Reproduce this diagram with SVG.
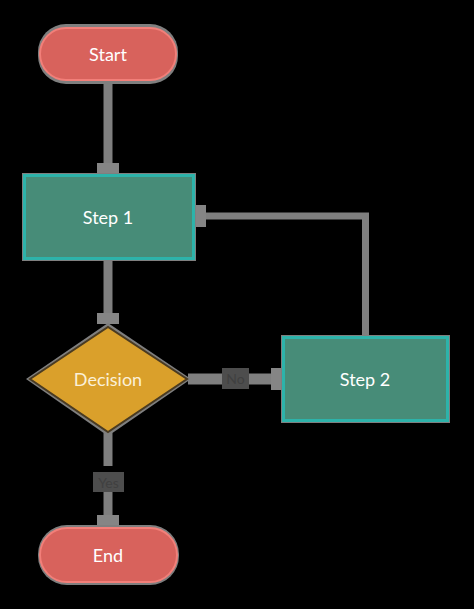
<svg xmlns="http://www.w3.org/2000/svg" width="474" height="609" viewBox="0 0 474 609">
<defs>
<style>
.halo{fill:#7f7f7f}
.term{fill:#d8625c;stroke:#f27f79;stroke-width:2}
.step{fill:#478c78;stroke:#2db3aa;stroke-width:3}
.dec{fill:#daa02b;stroke:#4a3b22;stroke-width:2}
.lbl{font-family:Lato,"Open Sans","Noto Sans",sans-serif;font-size:18px;fill:#ffffff;text-anchor:middle;dominant-baseline:central}
.dlbl{fill:#fbf0d8}
.edge{fill:none;stroke:#7f7f7f;stroke-width:9}
.ebox{fill:#4d4d4d}
.etxt{font-family:Lato,"Open Sans","Noto Sans",sans-serif;font-size:14px;fill:#404040;text-anchor:middle;dominant-baseline:central}
</style>
<marker id="blk" viewBox="0 0 11 22" refX="11" refY="11" markerWidth="11" markerHeight="22" markerUnits="userSpaceOnUse" orient="auto">
<rect x="0" y="0" width="11" height="22" fill="#858585"/>
</marker>
</defs>
<rect width="474" height="609" fill="#000000"/>
<g id="connectors">
<path class="edge" d="M108,84 V174" marker-end="url(#blk)"/>
<path class="edge" d="M108,260 V324" marker-end="url(#blk)"/>
<path class="edge" style="stroke-width:11" d="M188,379 H282" marker-end="url(#blk)"/>
<path class="edge" style="stroke-width:7" d="M365.5,337 V216 H195" marker-end="url(#blk)"/>
<path class="edge" d="M108,433 V466"/>
<path class="edge" d="M108,492 V526" marker-end="url(#blk)"/>
<g id="label-no"><rect class="ebox" x="222" y="368" width="27" height="21"/><text class="etxt" x="235.5" y="378.5">No</text></g>
<g id="label-yes"><rect class="ebox" x="93" y="472" width="31" height="20"/><text class="etxt" x="108.5" y="482">Yes</text></g>
</g>
<g id="start">
<rect class="halo" x="38" y="24" width="140" height="60" rx="28"/>
<rect class="term" x="40" y="28" width="136" height="52" rx="26"/>
<text class="lbl" x="108" y="54">Start</text>
</g>
<g id="step1">
<rect class="halo" x="22" y="173" width="174" height="88"/>
<rect class="step" x="24.5" y="175.5" width="169" height="83"/>
<text class="lbl" x="108" y="217">Step 1</text>
</g>
<g id="decision">
<polygon class="halo" points="26,379 108,323 191,379 108,436"/>
<polygon class="dec" points="30,379 108,327 187,379 108,432"/>
<text class="lbl dlbl" x="108" y="379">Decision</text>
</g>
<g id="step2">
<rect class="halo" x="281" y="335" width="169" height="88"/>
<rect class="step" x="283.5" y="337.5" width="164" height="83"/>
<text class="lbl" x="365" y="379">Step 2</text>
</g>
<g id="end">
<rect class="halo" x="38" y="525" width="141" height="60" rx="29"/>
<rect class="term" x="40" y="528" width="137" height="54" rx="27"/>
<text class="lbl" x="108" y="555">End</text>
</g>
</svg>
